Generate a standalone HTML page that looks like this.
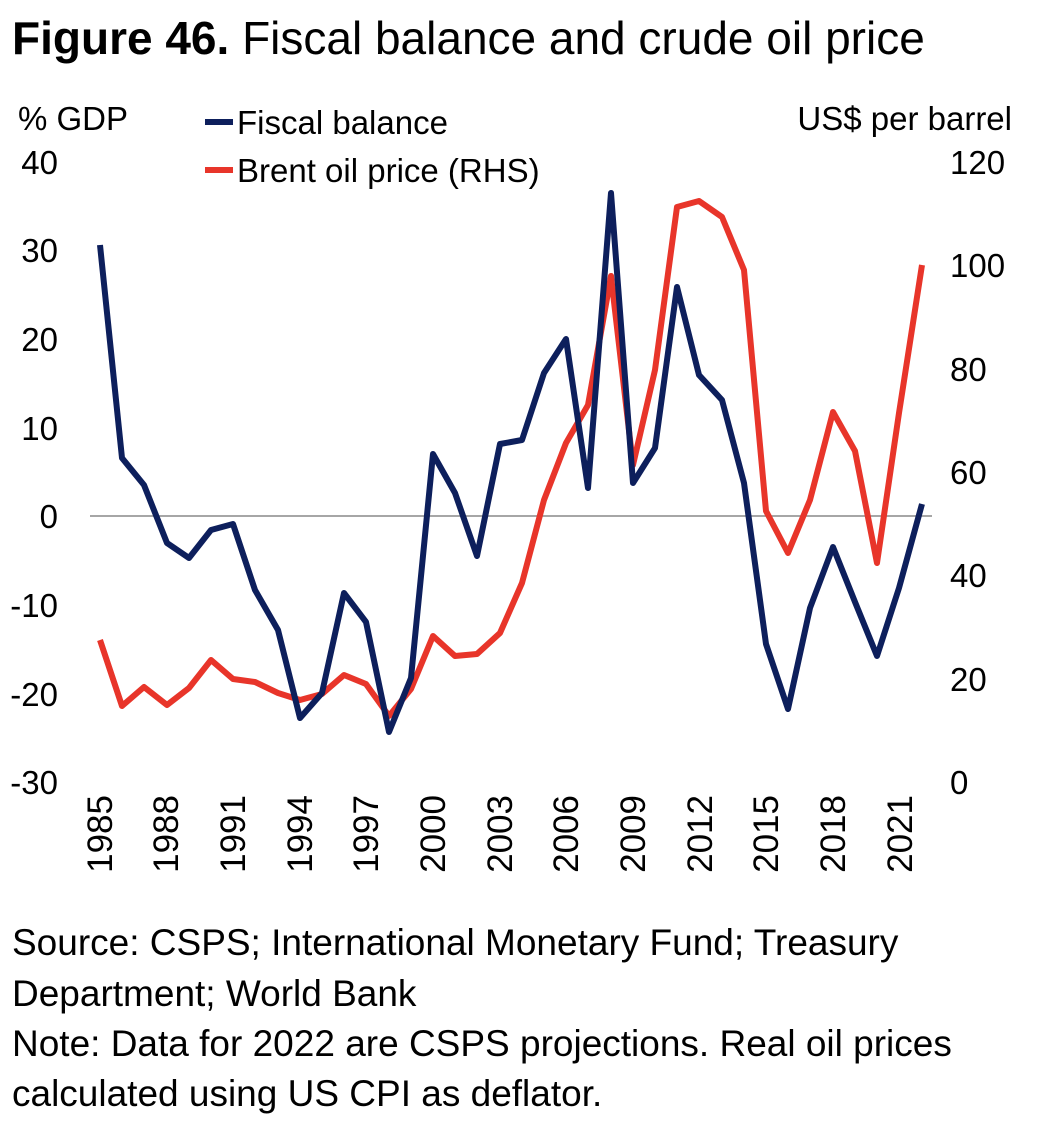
<!DOCTYPE html>
<html><head><meta charset="utf-8"><style>
body{margin:0;background:#fff;width:1046px;height:1124px;overflow:hidden;font-family:"Liberation Sans",Arial,sans-serif;}
</style></head><body>
<svg width="1046" height="1124" xmlns="http://www.w3.org/2000/svg" font-family="Liberation Sans, Arial, sans-serif">
<text x="12" y="54" font-size="46" fill="#000"><tspan font-weight="bold">Figure 46.</tspan> Fiscal balance and crude oil price</text>
<text x="18" y="130" font-size="33">% GDP</text>
<text x="1012" y="130" font-size="33" text-anchor="end">US$ per barrel</text>
<line x1="205" y1="122" x2="233" y2="122" stroke="#0d1f5c" stroke-width="6"/>
<text x="237" y="134" font-size="33">Fiscal balance</text>
<line x1="205" y1="170" x2="233" y2="170" stroke="#e8352a" stroke-width="6"/>
<text x="237" y="182" font-size="33">Brent oil price (RHS)</text>
<g font-size="33" text-anchor="end">
<text x="58" y="174">40</text><text x="58" y="262">30</text><text x="58" y="351">20</text><text x="58" y="440">10</text><text x="58" y="528">0</text><text x="58" y="617">-10</text><text x="58" y="706">-20</text><text x="58" y="794">-30</text>
</g>
<g font-size="33" text-anchor="start">
<text x="950" y="174">120</text><text x="950" y="277">100</text><text x="950" y="381">80</text><text x="950" y="484">60</text><text x="950" y="587">40</text><text x="950" y="691">20</text><text x="950" y="794">0</text>
</g>
<line x1="90" y1="516" x2="932" y2="516" stroke="#888" stroke-width="1.5"/>
<g font-size="35" text-anchor="end">
<text transform="translate(112,795) rotate(-90)">1985</text>
<text transform="translate(178,795) rotate(-90)">1988</text>
<text transform="translate(245,795) rotate(-90)">1991</text>
<text transform="translate(312,795) rotate(-90)">1994</text>
<text transform="translate(378,795) rotate(-90)">1997</text>
<text transform="translate(445,795) rotate(-90)">2000</text>
<text transform="translate(512,795) rotate(-90)">2003</text>
<text transform="translate(578,795) rotate(-90)">2006</text>
<text transform="translate(645,795) rotate(-90)">2009</text>
<text transform="translate(712,795) rotate(-90)">2012</text>
<text transform="translate(778,795) rotate(-90)">2015</text>
<text transform="translate(845,795) rotate(-90)">2018</text>
<text transform="translate(912,795) rotate(-90)">2021</text>
</g>
<polyline fill="none" stroke="#e8352a" stroke-width="6" stroke-linejoin="round" points="100,640 122,706 144,687 167,705 189,688 211,660 233,679 255,682 278,693 300,700 322,694 344,675 366,684 389,716 411,689 433,636 455,656 477,654 500,633 522,583 544,500 566,443 588,405 611,276 633,465 655,370 677,207 699,201 722,217 744,270 766,511 788,553 810,500 833,412 855,451 877,563 899,413 922,265"/>
<polyline fill="none" stroke="#0d1f5c" stroke-width="6" stroke-linejoin="round" points="100,245 122,458 144,485 167,543 189,558 211,530 233,524 255,590 278,630 300,718 322,693 344,593 366,622 389,732 411,678 433,454 455,493 477,556 500,444 522,440 544,373 566,339 588,488 611,193 633,483 655,448 677,287 699,375 722,400 744,483 766,644 788,709 810,608 833,547 855,602 877,656 899,588 922,504"/>
<g font-size="37">
<text x="12" y="955">Source: CSPS; International Monetary Fund; Treasury</text>
<text x="12" y="1006">Department; World Bank</text>
<text x="12" y="1056">Note: Data for 2022 are CSPS projections. Real oil prices</text>
<text x="12" y="1106">calculated using US CPI as deflator.</text>
</g>
</svg>
</body></html>
